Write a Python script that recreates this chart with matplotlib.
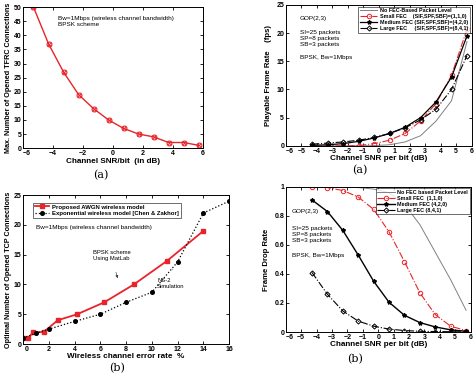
import matplotlib
matplotlib.use("Agg")
import matplotlib.pyplot as plt
from matplotlib.transforms import ScaledTranslation

plt.rcParams["font.family"] = ["Liberation Sans", "DejaVu Sans"]
plt.rcParams["font.weight"] = "bold"
plt.rcParams["axes.labelweight"] = "bold"

# panel (a) top-left
snr_a = [-5.3, -4.3, -3.3, -2.3, -1.3, -0.3, 0.7, 1.7, 2.7, 3.7, 4.7, 5.7]
tfrc_conn = [50, 37, 27, 19, 14, 10, 7, 5, 4, 2, 2, 1]

# frame rate / drop rate panels
snr = [-4.3, -3.3, -2.3, -1.3, -0.3, 0.7, 1.7, 2.7, 3.7, 4.7, 5.7]
fps_nofec = [0, 0, 0, 0, 0.05, 0.2, 0.7, 1.8, 4.4, 8.0, 18.5]
fps_small = [0, 0, 0, 0.05, 0.4, 1.0, 2.2, 4.4, 7.5, 12.5, 20.7]
fps_medium = [0.1, 0.2, 0.4, 0.8, 1.4, 2.2, 3.3, 5.0, 7.8, 12.2, 19.5]
fps_large = [0.3, 0.5, 0.7, 1.0, 1.5, 2.2, 3.2, 4.6, 6.5, 10.0, 16.0]

drop_nofec = [1.0, 1.0, 0.998, 0.995, 0.985, 0.96, 0.88, 0.74, 0.55, 0.36, 0.15]
drop_small = [1.0, 0.995, 0.975, 0.93, 0.845, 0.69, 0.485, 0.27, 0.12, 0.04, 0.01]
drop_medium = [0.91, 0.83, 0.70, 0.53, 0.35, 0.205, 0.115, 0.065, 0.035, 0.015, 0.005]
drop_large = [0.41, 0.26, 0.145, 0.075, 0.04, 0.02, 0.01, 0.005, 0.003, 0.002, 0.001]

# panel (b) bottom-left
err_awgn = [0, 0.4, 0.8, 1.6, 2.7, 4.2, 6.3, 8.6, 11.2, 14]
tcp_awgn = [1, 1, 2, 2, 4, 5, 7, 10, 14, 19]
err_exp = [0, 1, 2, 4, 6, 8, 10, 12, 14, 16]
tcp_exp = [1, 1.8, 2.5, 3.8, 5, 7, 8.7, 13.8, 22, 24]

TICK = 5.0
LAB = 5.9
TXT = 4.6
LEG = 3.9


def style(ax):
    ax.tick_params(direction="in", top=True, right=True, labelsize=TICK,
                   length=2.5, width=0.6, pad=1.2)
    for s in ax.spines.values():
        s.set_linewidth(0.7)


def nudge_first_xtick(fig, ax):
    # keep the corner labels from touching
    fig.canvas.draw()
    lbl = ax.get_xticklabels()[0]
    lbl.set_transform(lbl.get_transform() + ScaledTranslation(2.5 / 72, 0, fig.dpi_scale_trans))


fig = plt.figure(figsize=(4.74, 3.76), dpi=100)

# top-left
ax1 = fig.add_axes([0.0485, 0.606, 0.380, 0.375])
ax1.plot(snr_a, tfrc_conn, color="#e8242a", lw=1.0, marker="o", ms=3.5,
         mfc="none", mec="#e8242a", mew=0.8)
ax1.plot(snr_a, tfrc_conn, color="#e8242a", lw=0, marker="x", ms=2.2, mew=0.6)
ax1.set_xlim(-6, 6)
ax1.set_ylim(0, 50)
ax1.set_xticks(range(-6, 7, 2))
ax1.set_yticks(range(0, 51, 5))
ax1.set_xlabel("Channel SNR/bit  (in dB)", fontsize=LAB, labelpad=0.5)
ax1.set_ylabel("Max. Number of Opened TFRC Connections", fontsize=5.2, labelpad=1)
ax1.text(-3.7, 45, "Bw=1Mbps (wireless channel bandwidth)\nBPSK scheme",
         fontsize=TXT, fontweight="normal", va="center", linespacing=1.3)
style(ax1)
fig.text(0.212, 0.533, "(a)", fontsize=8, family="DejaVu Serif",
         fontweight="normal", ha="center", va="center")

# top-right
ax2 = fig.add_axes([0.603, 0.612, 0.392, 0.375])
ax2.plot(snr, fps_nofec, color="#808080", lw=0.7, label="No FEC-Based Packet Level")
ax2.plot(snr, fps_small, color="#e8242a", lw=0.8, ls="-.", marker="o", ms=3.2,
         mfc="none", mew=0.7, label="Small FEC    (SIF,SPF,SBF)=(1,1,0)")
ax2.plot(snr, fps_medium, color="black", lw=0.9, marker="*", ms=3,
         label="Medium FEC (SIF,SPF,SBF)=(4,2,0)")
ax2.plot(snr, fps_large, color="black", lw=0.8, ls="-.", marker="D", ms=2.6,
         mfc="none", mew=0.7, label="Large FEC     (SIF,SPF,SBF)=(8,4,1)")
ax2.set_xlim(-6, 6)
ax2.set_ylim(0, 25)
ax2.set_xticks(range(-6, 7))
ax2.set_yticks(range(0, 26, 5))
ax2.set_xlabel("Channel SNR per bit (dB)", fontsize=LAB, labelpad=0.5)
ax2.set_ylabel("Playable Frame Rate    (fps)", fontsize=5.6, labelpad=3)
ax2.text(-5.1, 22.5, "GOP(2,3)", fontsize=TXT, fontweight="normal", va="center")
ax2.text(-5.1, 19.1, "SI=25 packets\nSP=8 packets\nSB=3 packets",
         fontsize=TXT, fontweight="normal", va="center", linespacing=1.25)
ax2.text(-5.1, 15.6, "BPSK, Bw=1Mbps", fontsize=TXT, fontweight="normal", va="center")
leg = ax2.legend(loc="upper right", fontsize=LEG, handlelength=3.2,
                 borderaxespad=0.3, borderpad=0.3, labelspacing=0.2,
                 fancybox=False, edgecolor="black", handletextpad=0.5)
leg.get_frame().set_linewidth(0.5)
style(ax2)
fig.text(0.76, 0.548, "(a)", fontsize=8, family="DejaVu Serif",
         fontweight="normal", ha="center", va="center")

# bottom-left
ax3 = fig.add_axes([0.0485, 0.085, 0.435, 0.396])
ax3.plot(err_awgn, tcp_awgn, color="#e8242a", lw=1.3, marker="s", ms=2.4,
         label="Proposed AWGN wireless model")
ax3.plot(err_exp, tcp_exp, color="black", lw=0.9, ls=":", marker="o", ms=2.6,
         label="Exponential wireless model [Chen & Zakhor]")
ax3.set_xlim(0, 16)
ax3.set_ylim(0, 25)
ax3.set_xticks(range(0, 17, 2))
ax3.set_yticks(range(0, 26, 5))
ax3.set_xlabel("Wireless channel error rate  %", fontsize=LAB, labelpad=0.5)
ax3.set_ylabel("Optimal Number of Opened TCP Connections", fontsize=5.2, labelpad=1)
ax3.text(1.0, 19.5, "Bw=1Mbps (wireless channel bandwidth)", fontsize=TXT,
         fontweight="normal", va="center")
ax3.annotate("BPSK scheme\nUsing MatLab", xy=(7.4, 10.6), xytext=(5.4, 14.8),
             fontsize=TXT - 0.4, fontweight="normal", va="center",
             arrowprops=dict(arrowstyle="-|>", lw=0.4, color="#333333",
                             mutation_scale=4, shrinkA=6))
ax3.annotate("NS-2\nSimulation", xy=(11.6, 12.6), xytext=(10.4, 10.2),
             fontsize=TXT - 0.4, fontweight="normal", va="center",
             arrowprops=dict(arrowstyle="-", lw=0.4, color="#333333", shrinkA=4))
leg = ax3.legend(loc="upper left", fontsize=LEG + 0.4, handlelength=2.4,
                 bbox_to_anchor=(0.035, 0.97), borderpad=0.3, labelspacing=0.2,
                 fancybox=False, edgecolor="black", handletextpad=0.5)
leg.get_frame().set_linewidth(0.5)
style(ax3)
fig.text(0.247, 0.021, "(b)", fontsize=8, family="DejaVu Serif",
         fontweight="normal", ha="center", va="center")

# bottom-right
ax4 = fig.add_axes([0.603, 0.117, 0.390, 0.386])
ax4.plot(snr, drop_nofec, color="#808080", lw=0.7, label="No FEC based Packet Level")
ax4.plot(snr, drop_small, color="#e8242a", lw=0.8, ls="-.", marker="o", ms=3.2,
         mfc="none", mew=0.7, label="Small FEC  (1,1,0)")
ax4.plot(snr, drop_medium, color="black", lw=1.0, marker="*", ms=3,
         label="Medium FEC (4,2,0)")
ax4.plot(snr, drop_large, color="black", lw=0.8, ls="-.", marker="D", ms=2.6,
         mfc="none", mew=0.7, label="Large FEC (8,4,1)")
ax4.set_xlim(-6, 6)
ax4.set_ylim(0, 1)
ax4.set_xticks(range(-6, 7))
ax4.set_yticks([0, 0.2, 0.4, 0.6, 0.8, 1])
ax4.set_yticklabels(["0", "0.2", "0.4", "0.6", "0.8", "1"])
ax4.set_xlabel("Channel SNR per bit (dB)", fontsize=LAB, labelpad=0.5)
ax4.set_ylabel("Frame Drop Rate", fontsize=5.6, labelpad=3)
ax4.text(-5.6, 0.83, "GOP(2,3)", fontsize=TXT, fontweight="normal", va="center")
ax4.text(-5.6, 0.675, "SI=25 packets\nSP=8 packets\nSB=3 packets",
         fontsize=TXT, fontweight="normal", va="center", linespacing=1.25)
ax4.text(-5.6, 0.53, "BPSK, Bw=1Mbps", fontsize=TXT, fontweight="normal", va="center")
leg = ax4.legend(loc="upper right", fontsize=LEG, handlelength=3.2,
                 borderaxespad=0.2, borderpad=0.3, labelspacing=0.2,
                 fancybox=False, edgecolor="black", handletextpad=0.5)
leg.get_frame().set_linewidth(0.5)
style(ax4)
fig.text(0.749, 0.045, "(b)", fontsize=8, family="DejaVu Serif",
         fontweight="normal", ha="center", va="center")

for ax in (ax1, ax2, ax3, ax4):
    nudge_first_xtick(fig, ax)

fig.savefig("out.png", dpi=100)
